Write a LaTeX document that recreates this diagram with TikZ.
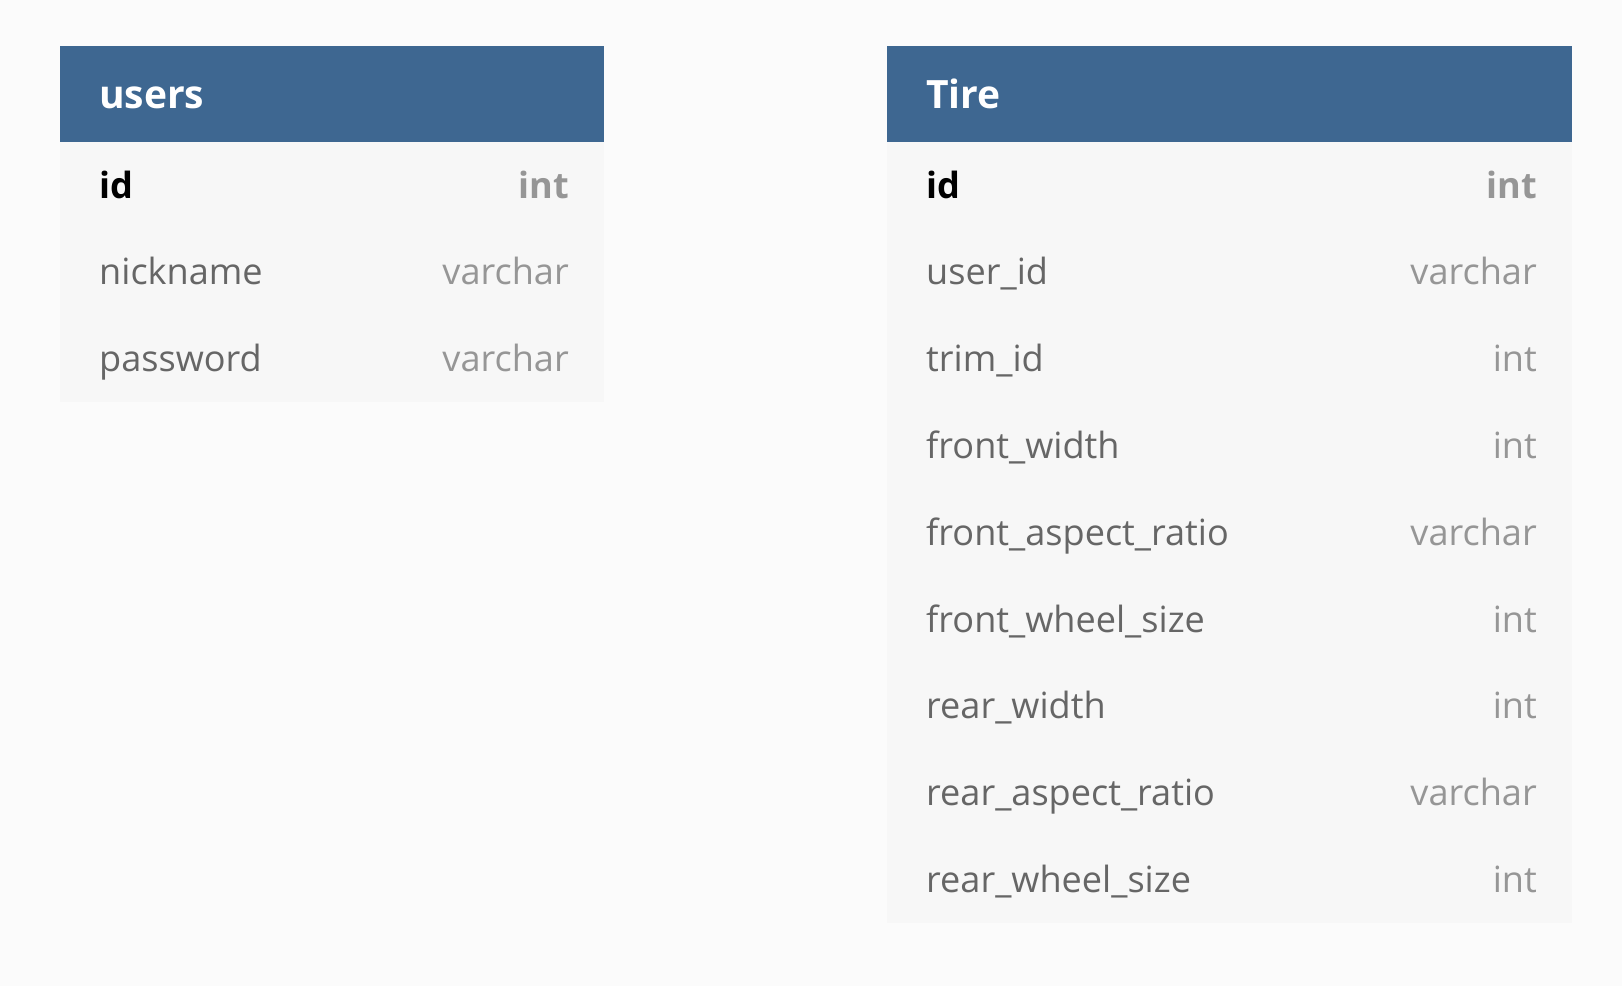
\documentclass[tikz,border=0pt]{standalone}
\usepackage{fontspec}
\setmainfont{Open Sans}
\definecolor{pagebg}{RGB}{251,251,251}
\definecolor{rowbg}{RGB}{247,247,247}
\definecolor{headblue}{RGB}{62,103,145}
\definecolor{namegray}{RGB}{102,102,102}
\definecolor{typegray}{RGB}{150,150,150}

\begin{document}
\begin{tikzpicture}[x=1pt,y=-1pt,
    title/.style={anchor=base west,inner sep=0pt,text=white,font=\fontsize{39}{46}\selectfont\bfseries},
    colname/.style={anchor=base west,inner sep=0pt,text=namegray,font=\fontsize{36.1}{43}\selectfont},
    coltype/.style={anchor=base east,inner sep=0pt,text=typegray,font=\fontsize{36.1}{43}\selectfont},
    keyname/.style={colname,text=black,font=\fontsize{36.1}{43}\selectfont\bfseries},
    keytype/.style={coltype,font=\fontsize{36.1}{43}\selectfont\bfseries}]
  \useasboundingbox (0,0) rectangle (1622,986);
  \fill[pagebg] (0,0) rectangle (1622,986);
  % users
  \fill[rowbg] (60,141.7) rectangle (604,402.1);
  \fill[headblue] (60,46) rectangle (604,141.7);
  \node[title] (users) at (99,108) {users};
  \node[keyname] (users-id) at (99,198.1) {id};
  \node[keytype] (users-id-t) at (569,198.1) {int};
  \foreach \col/\typ [count=\i] in {nickname/varchar,password/varchar}{
    \node[colname] (users-\col) at (99,{198.1+86.8*\i}) {\col};
    \node[coltype] (users-\col-t) at (569,{198.1+86.8*\i}) {\typ};
  }
  % Tire
  \fill[rowbg] (887,141.7) rectangle (1572,922.9);
  \fill[headblue] (887,46) rectangle (1572,141.7);
  \node[title] (tire) at (926,108) {Tire};
  \node[keyname] (tire-id) at (926,198.1) {id};
  \node[keytype] (tire-id-t) at (1537,198.1) {int};
  \foreach \col/\typ [count=\i] in {user/varchar,trim/int,fwidth/int,faspect/varchar,
      fwheel/int,rwidth/int,raspect/varchar,rwheel/int}{
    \node[colname] (tire-\col) at (926,{198.1+86.8*\i}) {\ifcase\i\or user\_id\or trim\_id\or
      front\_width\or front\_aspect\_ratio\or front\_wheel\_size\or rear\_width\or
      rear\_aspect\_ratio\or rear\_wheel\_size\fi};
    \node[coltype] (tire-\col-t) at (1537,{198.1+86.8*\i}) {\typ};
  }
\end{tikzpicture}
\end{document}
